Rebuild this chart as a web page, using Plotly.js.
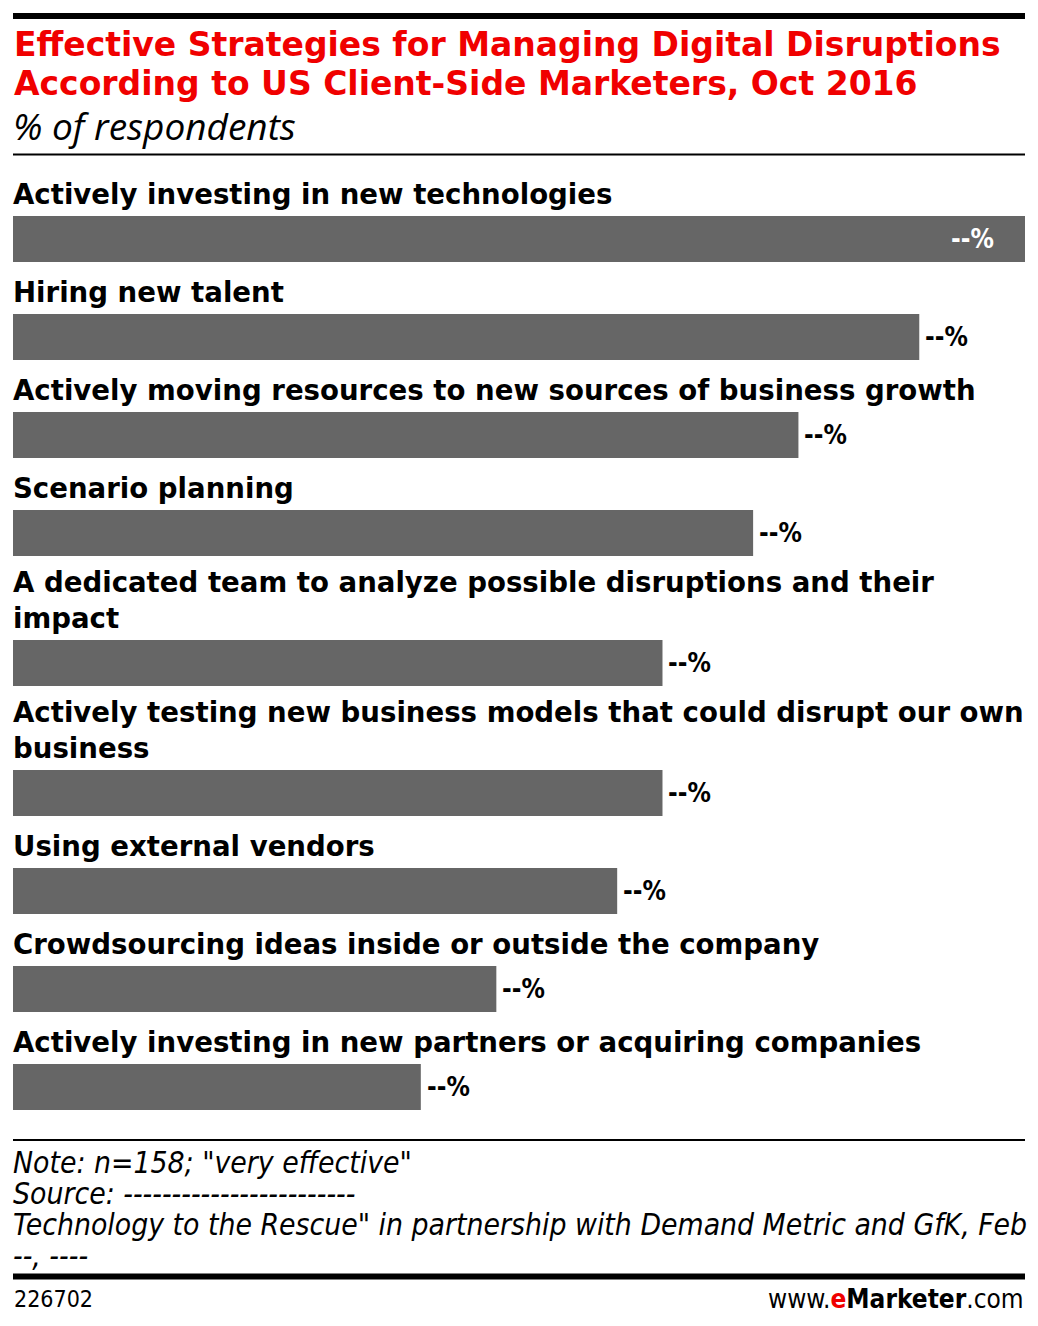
<!DOCTYPE html>
<html>
<head>
<meta charset="utf-8">
<script src="https://cdn.plot.ly/plotly-3.0.1.min.js"></script>
<style>
  body { margin: 0; background: #fff; }
  #chart { width: 1038px; height: 1326px; }
</style>
</head>
<body>
<div id="chart"></div>
<script>
var strategies = [
  "Actively investing in new technologies",
  "Hiring new talent",
  "Actively moving resources to new sources of business growth",
  "Scenario planning",
  "A dedicated team to analyze possible disruptions and their<br>impact",
  "Actively testing new business models that could disrupt our own<br>business",
  "Using external vendors",
  "Crowdsourcing ideas inside or outside the company",
  "Actively investing in new partners or acquiring companies"
];
var shares = [67, 60, 52, 49, 43, 43, 40, 32, 27];
var shareLabels = ["--%", "--%", "--%", "--%", "--%", "--%", "--%", "--%", "--%"];

var W = 1038, H = 1326;
var boldFont = "DejaVu Sans, sans-serif";
var narrowFont = "DejaVu Sans Condensed, sans-serif";

// rows: each bar sits under its label, two-line labels push the next rows down
var rowPos = [];
var barTop = 216;
for (var i = 0; i < strategies.length; i++) {
  var extra = strategies[i].split("<br>").length - 1;
  if (i > 0) barTop += 98 + 32 * extra;
  rowPos.push(barTop + 23);
}
var maxShare = Math.max.apply(null, shares);

var trace = {
  type: "bar",
  orientation: "h",
  x: shares,
  y: rowPos,
  width: 46,
  marker: { color: "#666666" },
  hoverinfo: "skip"
};

var annotations = [];
for (var i = 0; i < strategies.length; i++) {
  annotations.push({
    xref: "x", yref: "y", x: 0, y: rowPos[i] - 23,
    xanchor: "left", yanchor: "bottom", xshift: -2, yshift: 3,
    text: strategies[i], showarrow: false, align: "left",
    font: { family: boldFont, size: 27.6, color: "#000", weight: "bold" }
  });
  var inside = shares[i] / maxShare > 0.95;
  annotations.push({
    xref: "x", yref: "y", x: shares[i], y: rowPos[i],
    xanchor: inside ? "right" : "left", xshift: inside ? -29 : 4,
    yanchor: "middle",
    text: shareLabels[i], showarrow: false,
    font: { family: narrowFont, size: 26, color: inside ? "#fff" : "#000", weight: "bold" }
  });
}

function px(x) { return x / W; }

annotations.push(
  { xref: "paper", yref: "y", x: px(12), y: 44, xanchor: "left", yanchor: "middle",
    text: "Effective Strategies for Managing Digital Disruptions", showarrow: false,
    font: { family: boldFont, size: 33, color: "#f00000", weight: "bold" } },
  { xref: "paper", yref: "y", x: px(12), y: 83, xanchor: "left", yanchor: "middle",
    text: "According to US Client-Side Marketers, Oct 2016", showarrow: false,
    font: { family: boldFont, size: 33, color: "#f00000", weight: "bold" } },
  { xref: "paper", yref: "y", x: px(11), y: 125, xanchor: "left", yanchor: "middle",
    text: "% of respondents", showarrow: false,
    font: { family: "Open Sans, sans-serif", size: 37, color: "#000", style: "italic" } },
  { xref: "paper", yref: "y", x: px(11), y: 1162, xanchor: "left", yanchor: "middle",
    text: "Note: n=158; \"very effective\"", showarrow: false,
    font: { family: narrowFont, size: 29.8, color: "#000", style: "italic" } },
  { xref: "paper", yref: "y", x: px(11), y: 1193, xanchor: "left", yanchor: "middle",
    text: "Source: ------------------------", showarrow: false,
    font: { family: narrowFont, size: 29.8, color: "#000", style: "italic" } },
  { xref: "paper", yref: "y", x: px(11), y: 1224, xanchor: "left", yanchor: "middle",
    text: "Technology to the Rescue\" in partnership with Demand Metric and GfK, Feb", showarrow: false,
    font: { family: narrowFont, size: 29.8, color: "#000", style: "italic" } },
  { xref: "paper", yref: "y", x: px(11), y: 1255, xanchor: "left", yanchor: "middle",
    text: "--, ----", showarrow: false,
    font: { family: narrowFont, size: 29.8, color: "#000", style: "italic" } },
  { xref: "paper", yref: "y", x: px(12), y: 1299, xanchor: "left", yanchor: "middle",
    text: "226702", showarrow: false,
    font: { family: narrowFont, size: 23, color: "#000" } },
  { xref: "paper", yref: "y", x: px(1026), y: 1299, xanchor: "right", yanchor: "middle",
    text: "www.<b><span style=\"color:#f00000\">e</span>Marketer</b>.com", showarrow: false,
    font: { family: narrowFont, size: 26, color: "#000" } }
);

var shapes = [
  { type: "line", xref: "paper", yref: "y", x0: px(13), x1: px(1025), y0: 16, y1: 16, line: { color: "#000", width: 6 } },
  { type: "line", xref: "paper", yref: "y", x0: px(13), x1: px(1025), y0: 154.5, y1: 154.5, line: { color: "#000", width: 2 } },
  { type: "line", xref: "paper", yref: "y", x0: px(13), x1: px(1025), y0: 1140, y1: 1140, line: { color: "#000", width: 2 } },
  { type: "line", xref: "paper", yref: "y", x0: px(13), x1: px(1025), y0: 1276.5, y1: 1276.5, line: { color: "#000", width: 6 } }
];

var layout = {
  width: W, height: H,
  margin: { l: 0, r: 0, t: 0, b: 0 },
  paper_bgcolor: "#fff", plot_bgcolor: "#fff",
  showlegend: false,
  xaxis: { type: "linear", domain: [px(13), px(1025)], range: [0, maxShare], visible: false, fixedrange: true },
  yaxis: { type: "linear", domain: [0, 1], range: [H, 0], visible: false, fixedrange: true },
  annotations: annotations,
  shapes: shapes
};

Plotly.newPlot("chart", [trace], layout, { staticPlot: true });
</script>
</body>
</html>
